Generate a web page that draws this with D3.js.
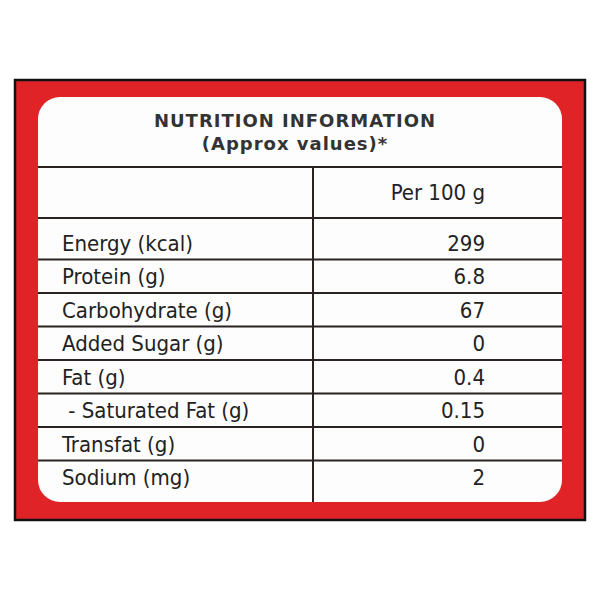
<!DOCTYPE html>
<html><head><meta charset="utf-8">
<script src="https://cdn.jsdelivr.net/npm/d3@7"></script>
<style>body{margin:0;background:#fff}</style>
</head><body>
<script>
var nutrients = ["Energy (kcal)", "Protein (g)", "Carbohydrate (g)", "Added Sugar (g)", "Fat (g)", " - Saturated Fat (g)", "Transfat (g)", "Sodium (mg)"];
var per100g = ["299", "6.8", "67", "0", "0.4", "0.15", "0", "2"];
var title = ["NUTRITION INFORMATION", "(Approx values)*"];
var header = "Per 100 g";

var svg = d3.select("body").append("svg").attr("width", 600).attr("height", 600);
var font = "'Liberation Sans Narrow', 'DejaVu Sans Condensed', sans-serif";

svg.append("rect").attr("x", 15).attr("y", 80).attr("width", 570).attr("height", 440)
  .attr("fill", "#e02326").attr("stroke", "#111").attr("stroke-width", 2.5);
svg.append("rect").attr("x", 38).attr("y", 97).attr("width", 524).attr("height", 405)
  .attr("rx", 22).attr("fill", "#fdfdfd");

svg.selectAll(".title").data(title).join("text")
  .attr("x", 295).attr("y", function (d, i) { return 127 + i * 23; })
  .attr("text-anchor", "middle").attr("font-family", "'DejaVu Sans', sans-serif")
  .attr("font-weight", "bold").attr("font-size", 18).attr("letter-spacing", 1)
  .attr("fill", "#333").text(function (d) { return d; });

var y = d3.scaleBand().domain(nutrients).range([226, 494]);
var line = "#2a2220";

// table frame
svg.append("line").attr("x1", 38).attr("x2", 562).attr("y1", 167).attr("y2", 167).attr("stroke", line).attr("stroke-width", 2);
svg.append("line").attr("x1", 38).attr("x2", 562).attr("y1", 218).attr("y2", 218).attr("stroke", line).attr("stroke-width", 2);
svg.append("line").attr("x1", 313).attr("x2", 313).attr("y1", 167).attr("y2", 502).attr("stroke", line).attr("stroke-width", 2);
svg.selectAll(".sep").data(nutrients.slice(1)).join("line")
  .attr("x1", 38).attr("x2", 562)
  .attr("y1", function (d) { return y(d); }).attr("y2", function (d) { return y(d); })
  .attr("stroke", line).attr("stroke-width", 2);

svg.append("text").attr("x", 485).attr("y", 200).attr("text-anchor", "end")
  .attr("font-family", font).attr("font-size", 22).attr("fill", "#222").text(header);

svg.selectAll(".name").data(nutrients).join("text")
  .attr("x", 62).attr("y", function (d) { return y(d) + y.bandwidth() / 2 + 8; })
  .attr("font-family", font).attr("font-size", 22).attr("fill", "#222")
  .attr("xml:space", "preserve").text(function (d) { return d; });

svg.selectAll(".val").data(per100g).join("text")
  .attr("x", 485).attr("y", function (d, i) { return y(nutrients[i]) + y.bandwidth() / 2 + 8; })
  .attr("text-anchor", "end").attr("font-family", font).attr("font-size", 22).attr("fill", "#222")
  .text(function (d) { return d; });
</script>
</body></html>
